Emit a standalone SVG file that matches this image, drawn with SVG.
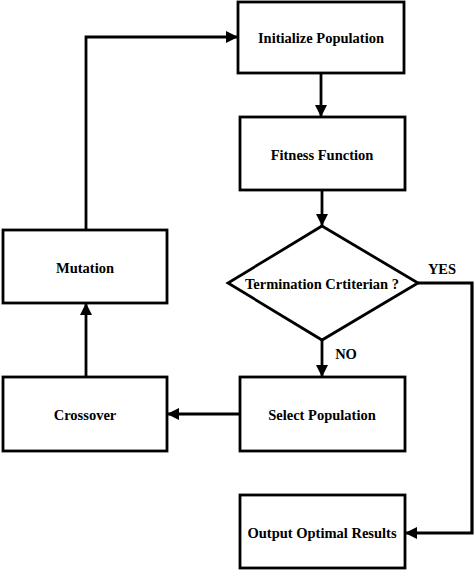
<svg xmlns="http://www.w3.org/2000/svg" width="474" height="570" viewBox="0 0 474 570">
<defs>
<style>
.box{fill:#fff;stroke:#000;stroke-width:2.8}
.lbl{font-family:"Liberation Serif","Times New Roman",serif;font-weight:bold;font-size:14.5px;fill:#000;text-anchor:middle;dominant-baseline:central}
.con{fill:none;stroke:#000;stroke-width:2.8}
</style>
<marker id="ah" markerWidth="12" markerHeight="12" viewBox="0 0 12 12" refX="12" refY="6" orient="auto" markerUnits="userSpaceOnUse">
<path d="M0,0 L12,6 L0,12 Z" fill="#000"/>
</marker>
</defs>
<rect width="474" height="570" fill="#fff"/>
<g id="connectors">
<path class="con" d="M321,73 L321,117" marker-end="url(#ah)"/>
<path class="con" d="M322,190 L322,226" marker-end="url(#ah)"/>
<path class="con" d="M322,340 L322,377" marker-end="url(#ah)"/>
<path class="con" d="M418,283 L472,283 L472,533 L405,533" marker-end="url(#ah)" style="stroke-width:3.2"/>
<path class="con" d="M240,414 L167,414" marker-end="url(#ah)"/>
<path class="con" d="M86,377 L86,303" marker-end="url(#ah)"/>
<path class="con" d="M86,230 L86,37 L238,37" marker-end="url(#ah)"/>
<text class="lbl" x="346" y="354">NO</text>
<text class="lbl" x="442" y="269">YES</text>
</g>
<g id="init"><rect class="box" x="238" y="2" width="166" height="71"/><text class="lbl" x="321" y="38">Initialize Population</text></g>
<g id="fitness"><rect class="box" x="240" y="117" width="165" height="73"/><text class="lbl" x="322" y="155">Fitness Function</text></g>
<g id="termination"><polygon class="box" points="322,226 418,283 322,340 228,283"/><text class="lbl" x="322" y="284">Termination Crtiterian ?</text></g>
<g id="mutation"><rect class="box" x="3" y="230" width="164" height="73"/><text class="lbl" x="85" y="268">Mutation</text></g>
<g id="crossover"><rect class="box" x="3" y="377" width="164" height="74"/><text class="lbl" x="85" y="415">Crossover</text></g>
<g id="select"><rect class="box" x="240" y="377" width="165" height="74"/><text class="lbl" x="322" y="415">Select Population</text></g>
<g id="output"><rect class="box" x="240" y="495" width="165" height="73"/><text class="lbl" x="322" y="533">Output Optimal Results</text></g>
</svg>
